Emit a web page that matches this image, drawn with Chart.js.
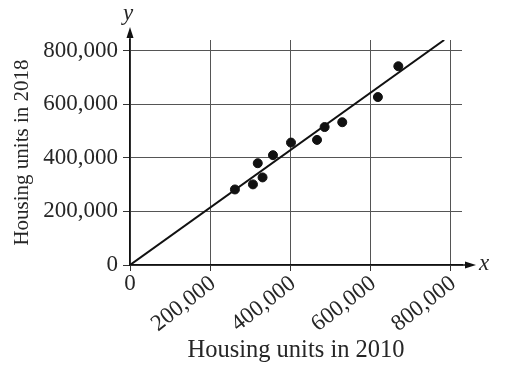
<!DOCTYPE html>
<html>
<head>
<meta charset="utf-8">
<script src="https://cdn.jsdelivr.net/npm/chart.js@4/dist/chart.umd.min.js"></script>
<style>
  html, body { margin: 0; padding: 0; background: #fff; }
  #wrap { width: 515px; height: 365px; }
</style>
</head>
<body>
<div id="wrap"><canvas id="myChart" width="515" height="365"></canvas></div>
<script>
'use strict';

// values (housing units)
let units2010 = [262000, 307000, 319000, 331000, 357000, 402000, 467000, 486000, 530000, 619000, 670000];
let units2018 = [282000, 301000, 380000, 327000, 410000, 457000, 467000, 515000, 533000, 627000, 742000];

// line of best fit, drawn from the origin to the top of the grid
let fitX = [0, 784500];
let fitY = [0, 840000];

let xTicks = [0, 200000, 400000, 600000, 800000];
let yTicks = [0, 200000, 400000, 600000, 800000];

let xTitle = 'Housing units in 2010';
let yTitle = 'Housing units in 2018';

const serif = 'Liberation Serif, Times New Roman, serif';
const textColor = '#262626';

function fmt(v) {
    return Number(v).toLocaleString('en-US');
}

let points = [];
for (let i = 0; i < units2010.length; i++) {
    points.push({ x: units2010[i], y: units2018[i] });
}
let fitLine = [];
for (let i = 0; i < fitX.length; i++) {
    fitLine.push({ x: fitX[i], y: fitY[i] });
}

// axis arrows, x/y letters and the x tick labels (0 flat, the rest slanted)
const extras = {
    id: 'extras',
    afterDraw(chart) {
        const ctx = chart.ctx;
        const area = chart.chartArea;
        const xs = chart.scales.x;
        ctx.save();
        ctx.strokeStyle = '#111';
        ctx.fillStyle = '#111';
        ctx.lineWidth = 1.5;

        // x axis extension + arrow
        ctx.beginPath();
        ctx.moveTo(area.right, area.bottom);
        ctx.lineTo(468, area.bottom);
        ctx.stroke();
        ctx.beginPath();
        ctx.moveTo(476, area.bottom);
        ctx.lineTo(465, area.bottom - 3.5);
        ctx.lineTo(465, area.bottom + 3.5);
        ctx.closePath();
        ctx.fill();

        // y axis extension + arrow
        ctx.beginPath();
        ctx.moveTo(area.left, area.top);
        ctx.lineTo(area.left, 34);
        ctx.stroke();
        ctx.beginPath();
        ctx.moveTo(area.left, 27);
        ctx.lineTo(area.left - 3.5, 38);
        ctx.lineTo(area.left + 3.5, 38);
        ctx.closePath();
        ctx.fill();

        ctx.fillStyle = textColor;
        ctx.font = 'italic 23px ' + serif;
        ctx.textAlign = 'center';
        ctx.textBaseline = 'middle';
        ctx.fillText('y', area.left - 2, 14);
        ctx.textAlign = 'left';
        ctx.fillText('x', 479, area.bottom - 1);

        ctx.font = '23px ' + serif;
        for (let i = 0; i < xTicks.length; i++) {
            let px = xs.getPixelForValue(xTicks[i]);
            if (xTicks[i] === 0) {
                ctx.textAlign = 'center';
                ctx.textBaseline = 'middle';
                ctx.fillText('0', px, 284);
            } else {
                ctx.save();
                ctx.translate(px + 3, 281);
                ctx.rotate(-38 * Math.PI / 180);
                ctx.textAlign = 'right';
                ctx.textBaseline = 'middle';
                ctx.fillText(fmt(xTicks[i]), 0, 0);
                ctx.restore();
            }
        }
        ctx.restore();
    }
};

var ctx = document.getElementById('myChart').getContext('2d');
var myChart = new Chart(ctx, {
    type: 'scatter',
    data: {
        datasets: [{
            label: 'fit',
            type: 'line',
            data: fitLine,
            borderColor: '#111',
            borderWidth: 2,
            pointRadius: 0,
            fill: false,
            order: 2
        },
        {
            label: 'counties',
            data: points,
            backgroundColor: '#111',
            borderColor: '#111',
            pointRadius: 4.5,
            pointHoverRadius: 4.5,
            order: 1
        }]
    },
    options: {
        responsive: false,
        animation: false,
        events: [],
        layout: { padding: { left: 0, right: 53, top: 40, bottom: 0 } },
        plugins: {
            legend: { display: false },
            tooltip: { enabled: false }
        },
        scales: {
            x: {
                type: 'linear',
                min: 0,
                max: 829000,
                afterBuildTicks: s => { s.ticks = xTicks.map(v => ({ value: v })); },
                afterFit: s => { s.height = 100; },
                ticks: { display: false },
                grid: { color: '#555', lineWidth: 1, drawTicks: true, tickLength: 6, tickColor: '#333' },
                border: { color: '#111', width: 1.5 },
                title: {
                    display: true,
                    text: xTitle,
                    color: textColor,
                    font: { family: serif, size: 24.5 },
                    padding: { top: 0, bottom: 0 }
                }
            },
            y: {
                type: 'linear',
                min: 0,
                max: 840000,
                afterBuildTicks: s => { s.ticks = yTicks.map(v => ({ value: v })); },
                afterFit: s => { s.width = 130; },
                ticks: {
                    color: textColor,
                    font: { family: serif, size: 23 },
                    padding: 5,
                    callback: v => fmt(v)
                },
                grid: { color: '#555', lineWidth: 1, drawTicks: true, tickLength: 7, tickColor: '#333' },
                border: { color: '#111', width: 1.5 },
                title: {
                    display: true,
                    text: yTitle,
                    color: textColor,
                    font: { family: serif, size: 21 },
                    padding: { top: 10, bottom: 0 }
                }
            }
        }
    },
    plugins: [extras]
});
</script>
</body>
</html>
